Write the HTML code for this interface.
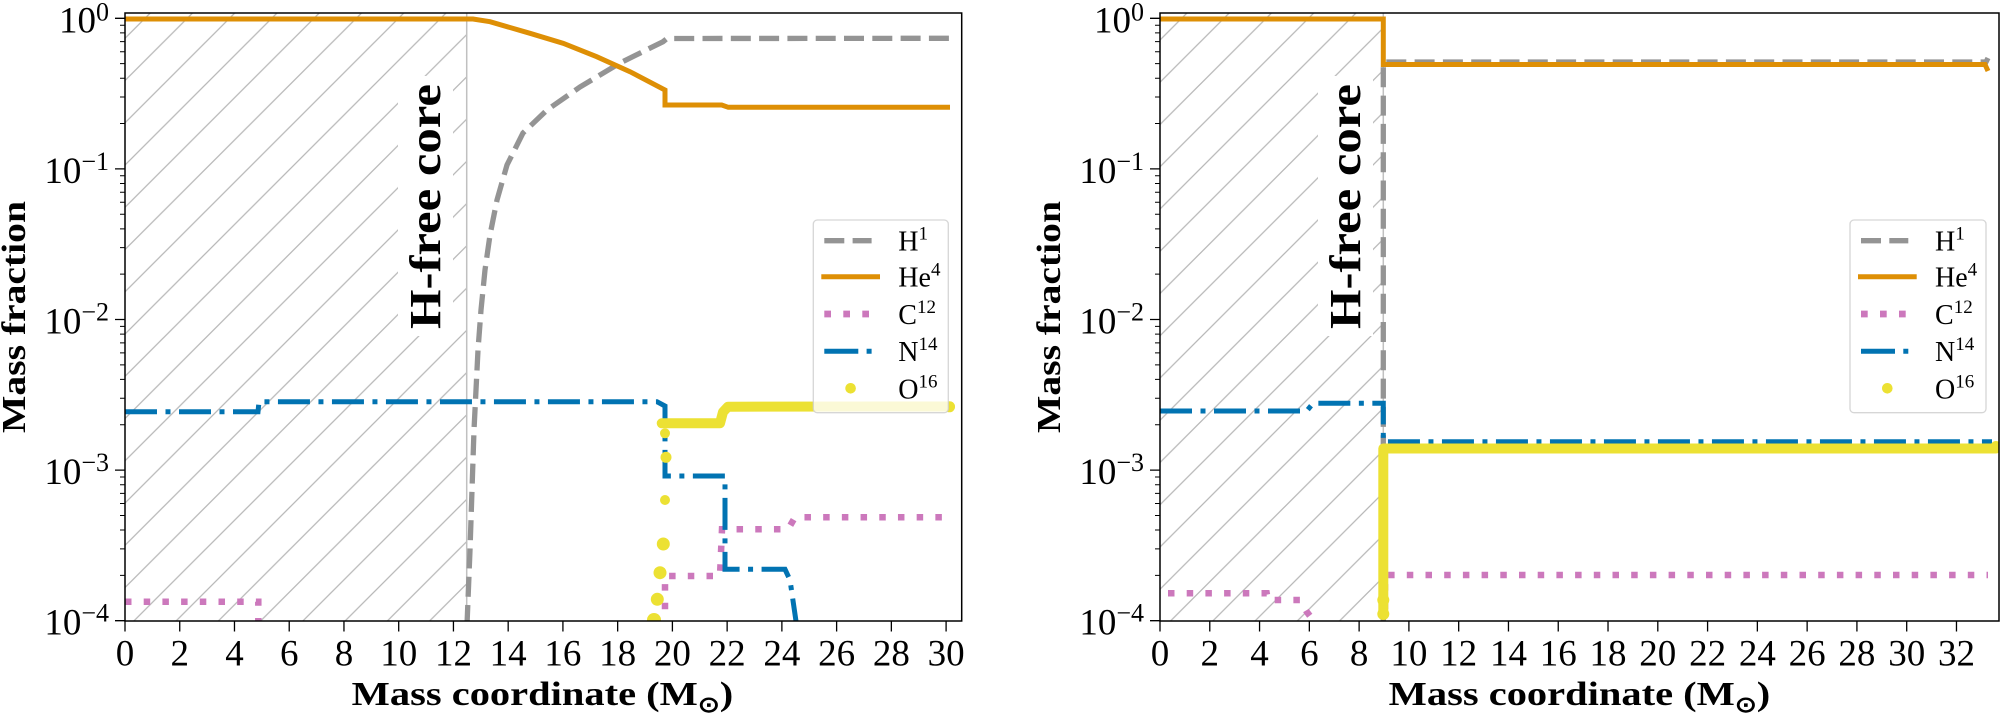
<!DOCTYPE html>
<html><head><meta charset="utf-8"><style>
html,body{margin:0;padding:0;background:#fff;}
svg{display:block;}
text{font-family:"Liberation Serif",serif;fill:#000;}
.b{font-weight:bold;}
</style></head><body>
<svg width="2000" height="715" viewBox="0 0 2000 715" xmlns="http://www.w3.org/2000/svg">
<defs>
<pattern id="hL" patternUnits="userSpaceOnUse" width="42.25" height="42.25" patternTransform="translate(36.55,0)">
<path d="M-2,44.25 L44.25,-2 M-2,2 L2,-2 M40.25,44.25 L44.25,40.25" stroke="#b8b8b8" stroke-width="1.3" fill="none"/>
</pattern>
<pattern id="hR" patternUnits="userSpaceOnUse" width="42.25" height="42.25" patternTransform="translate(17,0)">
<path d="M-2,44.25 L44.25,-2 M-2,2 L2,-2 M40.25,44.25 L44.25,40.25" stroke="#b8b8b8" stroke-width="1.3" fill="none"/>
</pattern>
<clipPath id="cL"><rect x="125" y="13" width="836.7" height="608"/></clipPath>
<clipPath id="cR"><rect x="1160" y="13" width="839" height="608"/></clipPath>
</defs>
<rect width="2000" height="715" fill="#fff"/>

<!-- ================= LEFT PANEL ================= -->
<rect x="125" y="13" width="341.7" height="608" fill="url(#hL)"/>
<line x1="466.7" y1="13" x2="466.7" y2="621" stroke="#c0c0c0" stroke-width="1.5"/>
<rect x="398" y="76" width="55" height="260" fill="#fff"/>
<text class="b" transform="translate(440,206.5) rotate(-90)" text-anchor="middle" font-size="44" textLength="245" lengthAdjust="spacingAndGlyphs">H-free core</text>

<g clip-path="url(#cL)" fill="none">
<!-- H1 -->
<path d="M467,625 L468,600 L470,550 L472,490 L474,430 L476,390 L478,350 L481,310 L485,270 L490,235 L497,200 L507,165 L523,133 L547,110 L580,87 L620,63 L663,41.7 L667,38.5 L950,38.3" stroke="#949494" stroke-width="5.3" stroke-dasharray="20 8.3"/>
<!-- He4 -->
<path d="M125,19 L473,19 L490,21.7 L530,33.3 L563.3,43.3 L596.7,56.7 L630,71.7 L665,90 L665,105 L721.7,105 L728.3,107.3 L950,107.3" stroke="#DE8F05" stroke-width="5"/>
<!-- C12 -->
<path d="M125,601.7 L258.3,601.7 L258.3,628" stroke="#CC78BC" stroke-width="6.5" stroke-dasharray="6.5 12.2"/>
<path d="M665,628 L665,576 L720,576 L722,529.3 L788,529.3 L795,517.3 L950,517.3" stroke="#CC78BC" stroke-width="6.5" stroke-dasharray="6.5 12.2"/>
<!-- N14 -->
<path d="M125,411.7 L258,411.7 L259,401.7 L657,401.7 L665,406 L665,476 L725,476 L725,569.3 L785,569.3 L790,580 L797,628" stroke="#0173B2" stroke-width="5" stroke-dasharray="32 8.5 5 8.5"/>
<!-- O16 -->
<path d="M661.7,423.3 L720,423.3 L723,412 L728,406.7 L950,406.5" stroke="#ECE133" stroke-width="10" stroke-linecap="round" stroke-linejoin="round"/>
<g fill="#ECE133">
<circle cx="949.5" cy="406.8" r="5.5"/>
<circle cx="665" cy="433.3" r="5"/>
<circle cx="666" cy="457.3" r="5.5"/>
<circle cx="665" cy="500" r="5"/>
<circle cx="663.3" cy="544" r="6.5"/>
<circle cx="660" cy="572.7" r="6.5"/>
<circle cx="657.3" cy="599.3" r="6.5"/>
<circle cx="654" cy="620" r="7"/>
</g>
</g>

<!-- legend left -->
<rect x="813.3" y="220" width="135" height="192.7" rx="4" fill="#fff" fill-opacity="0.8" stroke="#cccccc" stroke-opacity="0.8" stroke-width="1.3"/>
<g>
<path d="M824.3,240.7 H844.3 M852.6,240.7 H871.6" stroke="#949494" stroke-width="5.3"/>
<path d="M821.3,276.7 H880" stroke="#DE8F05" stroke-width="5"/>
<path d="M824.3,314 H831 M843.3,314 H850 M862.3,314 H869" stroke="#CC78BC" stroke-width="6.7"/>
<path d="M824.3,351.3 H858.3 M866.6,351.3 H871.6" stroke="#0173B2" stroke-width="5"/>
<circle cx="850.6" cy="388.3" r="5.3" fill="#ECE133"/>
<text x="898.3" y="250.5" font-size="28">H<tspan font-size="19" dy="-11">1</tspan></text>
<text x="898.3" y="286.5" font-size="28">He<tspan font-size="19" dy="-11">4</tspan></text>
<text x="898.3" y="324" font-size="28">C<tspan font-size="19" dy="-11">12</tspan></text>
<text x="898.3" y="361" font-size="28">N<tspan font-size="19" dy="-11">14</tspan></text>
<text x="898.3" y="398.3" font-size="28">O<tspan font-size="19" dy="-11">16</tspan></text>
</g>

<!-- axes left -->
<rect x="125" y="13" width="836.7" height="608" fill="none" stroke="#000" stroke-width="1.5"/>
<path d="M115,18.3H125 M115,168.9H125 M115,319.5H125 M115,470.1H125 M115,620.7H125" stroke="#000" stroke-width="1.3"/>
<path id="minL" d="M120,123.56H125 M120,97.05H125 M120,78.23H125 M120,63.64H125 M120,51.71H125 M120,41.63H125 M120,32.89H125 M120,25.19H125 M120,274.16H125 M120,247.65H125 M120,228.83H125 M120,214.24H125 M120,202.31H125 M120,192.23H125 M120,183.49H125 M120,175.79H125 M120,424.76H125 M120,398.25H125 M120,379.43H125 M120,364.84H125 M120,352.91H125 M120,342.83H125 M120,334.09H125 M120,326.39H125 M120,575.36H125 M120,548.85H125 M120,530.03H125 M120,515.44H125 M120,503.51H125 M120,493.43H125 M120,484.69H125 M120,476.99H125" stroke="#000" stroke-width="1"/>
<path d="M125,621V631.5 M179.74,621V631.5 M234.48,621V631.5 M289.22,621V631.5 M343.96,621V631.5 M398.7,621V631.5 M453.44,621V631.5 M508.18,621V631.5 M562.92,621V631.5 M617.66,621V631.5 M672.4,621V631.5 M727.14,621V631.5 M781.88,621V631.5 M836.62,621V631.5 M891.36,621V631.5 M946.1,621V631.5" stroke="#000" stroke-width="1.3"/>
<g font-size="37">
<text x="109" y="32.3" text-anchor="end">10<tspan font-size="26" dy="-12">0</tspan></text>
<text x="109" y="182.9" text-anchor="end">10<tspan font-size="26" dy="-13">−1</tspan></text>
<text x="109" y="333.5" text-anchor="end">10<tspan font-size="26" dy="-13">−2</tspan></text>
<text x="109" y="484.1" text-anchor="end">10<tspan font-size="26" dy="-13">−3</tspan></text>
<text x="109" y="634.7" text-anchor="end">10<tspan font-size="26" dy="-13">−4</tspan></text>
</g>
<g font-size="37" text-anchor="middle">
<text x="125" y="665.7">0</text><text x="179.74" y="665.7">2</text><text x="234.48" y="665.7">4</text><text x="289.22" y="665.7">6</text><text x="343.96" y="665.7">8</text><text x="398.7" y="665.7">10</text><text x="453.44" y="665.7">12</text><text x="508.18" y="665.7">14</text><text x="562.92" y="665.7">16</text><text x="617.66" y="665.7">18</text><text x="672.4" y="665.7">20</text><text x="727.14" y="665.7">22</text><text x="781.88" y="665.7">24</text><text x="836.62" y="665.7">26</text><text x="891.36" y="665.7">28</text><text x="946.1" y="665.7">30</text>
</g>
<text class="b" x="351.7" y="705" font-size="34" textLength="381.6" lengthAdjust="spacingAndGlyphs">Mass coordinate (M<tspan font-size="22" dy="7">⊙</tspan><tspan dy="-7">)</tspan></text>
<text class="b" transform="translate(25,317) rotate(-90)" text-anchor="middle" font-size="34" textLength="232" lengthAdjust="spacingAndGlyphs">Mass fraction</text>

<!-- ================= RIGHT PANEL ================= -->
<rect x="1160" y="13" width="223.3" height="608" fill="url(#hR)"/>
<line x1="1383.3" y1="13" x2="1383.3" y2="621" stroke="#c0c0c0" stroke-width="1.5"/>
<rect x="1318" y="76" width="55" height="260" fill="#fff"/>
<text class="b" transform="translate(1360,206.5) rotate(-90)" text-anchor="middle" font-size="44" textLength="245" lengthAdjust="spacingAndGlyphs">H-free core</text>

<g clip-path="url(#cR)" fill="none">
<!-- H1 -->
<path d="M1383.3,625 L1383.3,62 L1986,62 L1988,58" stroke="#949494" stroke-width="5.3" stroke-dasharray="20 8.3"/>
<!-- He4 -->
<path d="M1160,19 L1383.3,19 L1383.3,64.5 L1985,64.5 L1988,71" stroke="#DE8F05" stroke-width="5"/>
<!-- C12 -->
<path d="M1160,593.3 L1266.7,593.3 L1268,600 L1300,600 L1306.7,611.7 L1319,628" stroke="#CC78BC" stroke-width="6.5" stroke-dasharray="6.5 12.2" stroke-dashoffset="-8"/>
<path d="M1385,628 L1385,575 L1988,575" stroke="#CC78BC" stroke-width="6.5" stroke-dasharray="6.5 12.2"/>
<!-- N14 -->
<path d="M1160,411 L1306.7,411 L1313,403.3 L1383.3,403.3 L1383.3,441.7 L1992,441.7" stroke="#0173B2" stroke-width="5" stroke-dasharray="32 8.5 5 8.5"/>
<!-- O16 -->
<path d="M1383.3,612 L1383.3,448.5 L1996,448.5" stroke="#ECE133" stroke-width="10" stroke-linecap="round" stroke-linejoin="round"/>
<g fill="#ECE133">
<circle cx="1383.3" cy="600" r="6"/>
<circle cx="1383.3" cy="614" r="6"/>
<circle cx="1996" cy="446.5" r="5.5"/>
</g>
</g>

<!-- legend right -->
<rect x="1850" y="220" width="136" height="192.7" rx="4" fill="#fff" fill-opacity="0.8" stroke="#cccccc" stroke-opacity="0.8" stroke-width="1.3"/>
<g>
<path d="M1861,240.7 H1881 M1889.3,240.7 H1908.3" stroke="#949494" stroke-width="5.3"/>
<path d="M1858,276.7 H1916.7" stroke="#DE8F05" stroke-width="5"/>
<path d="M1861,314 H1867.7 M1880,314 H1886.7 M1899,314 H1905.7" stroke="#CC78BC" stroke-width="6.7"/>
<path d="M1861,351.3 H1895 M1903.3,351.3 H1908.3" stroke="#0173B2" stroke-width="5"/>
<circle cx="1887.3" cy="388.3" r="5.3" fill="#ECE133"/>
<text x="1935" y="250.5" font-size="28">H<tspan font-size="19" dy="-11">1</tspan></text>
<text x="1935" y="286.5" font-size="28">He<tspan font-size="19" dy="-11">4</tspan></text>
<text x="1935" y="324" font-size="28">C<tspan font-size="19" dy="-11">12</tspan></text>
<text x="1935" y="361" font-size="28">N<tspan font-size="19" dy="-11">14</tspan></text>
<text x="1935" y="398.3" font-size="28">O<tspan font-size="19" dy="-11">16</tspan></text>
</g>

<!-- axes right -->
<rect x="1160" y="13" width="839" height="608" fill="none" stroke="#000" stroke-width="1.5"/>
<path d="M1150,18.3H1160 M1150,168.9H1160 M1150,319.5H1160 M1150,470.1H1160 M1150,620.7H1160" stroke="#000" stroke-width="1.3"/>
<path transform="translate(1035,0)" d="M120,123.56H125 M120,97.05H125 M120,78.23H125 M120,63.64H125 M120,51.71H125 M120,41.63H125 M120,32.89H125 M120,25.19H125 M120,274.16H125 M120,247.65H125 M120,228.83H125 M120,214.24H125 M120,202.31H125 M120,192.23H125 M120,183.49H125 M120,175.79H125 M120,424.76H125 M120,398.25H125 M120,379.43H125 M120,364.84H125 M120,352.91H125 M120,342.83H125 M120,334.09H125 M120,326.39H125 M120,575.36H125 M120,548.85H125 M120,530.03H125 M120,515.44H125 M120,503.51H125 M120,493.43H125 M120,484.69H125 M120,476.99H125" stroke="#000" stroke-width="1"/>
<path d="M1160,621V631.5 M1209.78,621V631.5 M1259.56,621V631.5 M1309.34,621V631.5 M1359.12,621V631.5 M1408.9,621V631.5 M1458.68,621V631.5 M1508.46,621V631.5 M1558.24,621V631.5 M1608.02,621V631.5 M1657.8,621V631.5 M1707.58,621V631.5 M1757.36,621V631.5 M1807.14,621V631.5 M1856.92,621V631.5 M1906.7,621V631.5 M1956.48,621V631.5" stroke="#000" stroke-width="1.3"/>
<g font-size="37">
<text x="1144" y="32.3" text-anchor="end">10<tspan font-size="26" dy="-12">0</tspan></text>
<text x="1144" y="182.9" text-anchor="end">10<tspan font-size="26" dy="-13">−1</tspan></text>
<text x="1144" y="333.5" text-anchor="end">10<tspan font-size="26" dy="-13">−2</tspan></text>
<text x="1144" y="484.1" text-anchor="end">10<tspan font-size="26" dy="-13">−3</tspan></text>
<text x="1144" y="634.7" text-anchor="end">10<tspan font-size="26" dy="-13">−4</tspan></text>
</g>
<g font-size="37" text-anchor="middle">
<text x="1160" y="665.7">0</text><text x="1209.78" y="665.7">2</text><text x="1259.56" y="665.7">4</text><text x="1309.34" y="665.7">6</text><text x="1359.12" y="665.7">8</text><text x="1408.9" y="665.7">10</text><text x="1458.68" y="665.7">12</text><text x="1508.46" y="665.7">14</text><text x="1558.24" y="665.7">16</text><text x="1608.02" y="665.7">18</text><text x="1657.8" y="665.7">20</text><text x="1707.58" y="665.7">22</text><text x="1757.36" y="665.7">24</text><text x="1807.14" y="665.7">26</text><text x="1856.92" y="665.7">28</text><text x="1906.7" y="665.7">30</text><text x="1956.48" y="665.7">32</text>
</g>
<text class="b" x="1388.7" y="705" font-size="34" textLength="381.6" lengthAdjust="spacingAndGlyphs">Mass coordinate (M<tspan font-size="22" dy="7">⊙</tspan><tspan dy="-7">)</tspan></text>
<text class="b" transform="translate(1060,317) rotate(-90)" text-anchor="middle" font-size="34" textLength="232" lengthAdjust="spacingAndGlyphs">Mass fraction</text>
</svg>
</body></html>
